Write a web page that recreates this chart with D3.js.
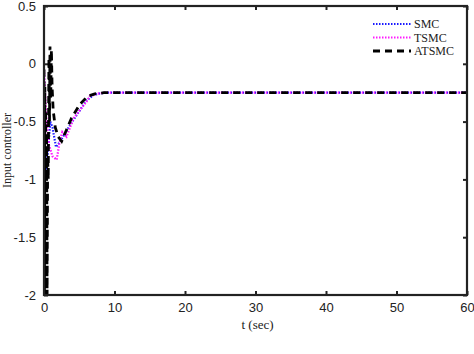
<!DOCTYPE html>
<html>
<head>
<meta charset="utf-8">
<script src="https://cdn.jsdelivr.net/npm/d3@7"></script>
<style>
  body { margin: 0; background: #fff; }
  svg { font-family: "Liberation Serif", "DejaVu Serif", serif; }
  .axis text { font-size: 13px; fill: #222; }
  .axis path, .axis line { stroke: #222; }
</style>
</head>
<body>
<svg id="chart" width="474" height="354"></svg>
<script>
// series: [t (sec), u]
const smc = [[0,-0.1],[0.1,-0.6],[0.2,-1.0],[0.5,-0.8],[0.9,-0.5],[1.2,-0.55],[1.7,-0.72],[2.2,-0.68],[3,-0.6],[4,-0.5],[5,-0.41],[6,-0.32],[7,-0.27],[8,-0.255],[9,-0.25],[60,-0.25]];
const tsmc = [[0,-0.05],[0.3,-0.45],[0.7,-0.7],[1.2,-0.8],[1.8,-0.83],[2.2,-0.68],[2.6,-0.59],[3.2,-0.63],[4.2,-0.47],[5.1,-0.4],[6,-0.33],[6.5,-0.28],[7.5,-0.26],[8.5,-0.25],[60,-0.25]];
const atsmc = [[0,-0.05],[0.06,-2.05],[0.12,-0.2],[0.18,-2.05],[0.24,-0.4],[0.3,-2.05],[0.37,-0.6],[0.44,-2.0],[0.52,-0.8],[0.6,-1.0],[0.7,0.05],[0.78,-0.5],[0.85,0.15],[0.95,-0.3],[1.05,0.12],[1.15,-0.2],[1.3,-0.4],[1.6,-0.55],[2.0,-0.63],[2.5,-0.67],[3.2,-0.57],[3.9,-0.47],[5.1,-0.35],[6.2,-0.28],[7.2,-0.26],[8.5,-0.25],[60,-0.25]];

const xTicks = [0, 10, 20, 30, 40, 50, 60];
const yTicks = [0.5, 0, -0.5, -1, -1.5, -2];
const seriesNames = ["SMC", "TSMC", "ATSMC"];

const margin = { top: 6, right: 7, bottom: 59, left: 44 };
const width = 474 - margin.left - margin.right;
const height = 354 - margin.top - margin.bottom;

const svg = d3.select("#chart");
const g = svg.append("g").attr("transform", `translate(${margin.left},${margin.top})`);

const x = d3.scaleLinear().domain([0, 60]).range([0, width]);
const y = d3.scaleLinear().domain([-2, 0.5]).range([height, 0]);

g.append("clipPath").attr("id", "clip")
  .append("rect").attr("width", width).attr("height", height);

// axes, ticks inward
g.append("g").attr("class", "axis")
  .attr("transform", `translate(0,${height})`)
  .call(d3.axisBottom(x).tickValues(xTicks).tickSize(-4).tickPadding(8).tickFormat(d3.format("d")))
  .call(a => a.select(".domain").remove());
g.append("g").attr("class", "axis")
  .call(d3.axisTop(x).tickValues(xTicks).tickSize(-4).tickFormat(""))
  .call(a => a.select(".domain").remove());
g.append("g").attr("class", "axis")
  .call(d3.axisLeft(y).tickValues(yTicks).tickSize(-4).tickPadding(8).tickFormat(d => d))
  .call(a => a.select(".domain").remove());
g.append("g").attr("class", "axis")
  .attr("transform", `translate(${width},0)`)
  .call(d3.axisRight(y).tickValues(yTicks).tickSize(-4).tickFormat(""))
  .call(a => a.select(".domain").remove());
g.selectAll(".axis line").attr("stroke-width", 2);

const line = d3.line().x(d => x(d[0])).y(d => y(d[1]));
const plot = g.append("g").attr("clip-path", "url(#clip)");

const styles = [
  { data: smc, color: "#1a1aff", width: 2.2, dash: "1.5,1.5" },
  { data: tsmc, color: "#ff1aff", width: 2.2, dash: "1.5,1.5" },
  { data: atsmc, color: "#000", width: 2.8, dash: "7,5" }
];

styles.forEach(s => {
  plot.append("path")
    .datum(s.data)
    .attr("fill", "none")
    .attr("stroke", s.color)
    .attr("stroke-width", s.width)
    .attr("stroke-dasharray", s.dash)
    .attr("d", line);
});

// frame
g.append("rect").attr("width", width).attr("height", height)
  .attr("fill", "none").attr("stroke", "#222").attr("stroke-width", 2.2);

// legend
const legend = g.append("g").attr("transform", `translate(${373 - margin.left},${24 - margin.top})`);
styles.forEach((s, i) => {
  const row = legend.append("g").attr("transform", `translate(0,${i * 13.5})`);
  row.append("line").attr("x1", 0).attr("x2", 38)
    .attr("stroke", s.color).attr("stroke-width", s.width).attr("stroke-dasharray", s.dash);
  row.append("text").attr("x", 41).attr("y", 4).attr("font-size", 12).attr("fill", "#222")
    .text(seriesNames[i]);
});

// axis labels
svg.append("text").attr("text-anchor", "middle")
  .attr("x", margin.left + width / 2 + 2).attr("y", 329)
  .attr("font-size", 13).attr("fill", "#222").text("t (sec)");
svg.append("text").attr("text-anchor", "middle")
  .attr("transform", `translate(11,${margin.top + height / 2}) rotate(-90)`)
  .attr("font-size", 12).attr("fill", "#222").text("Input controller");
</script>
</body>
</html>
